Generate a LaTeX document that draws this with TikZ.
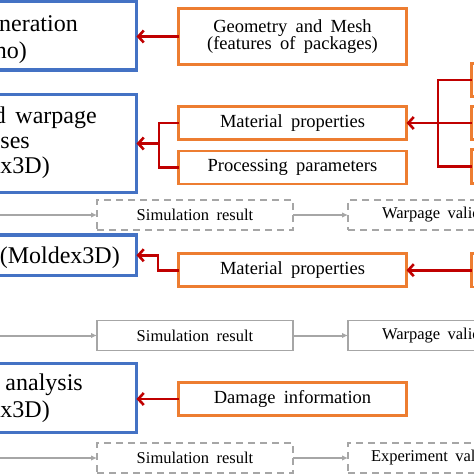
\documentclass[tikz,border=0pt]{standalone}
\usepackage{fontspec}
\setmainfont{Liberation Serif}
\usetikzlibrary{arrows.meta}
\definecolor{bblue}{RGB}{68,114,196}
\definecolor{borange}{RGB}{237,125,49}
\definecolor{bred}{RGB}{192,0,0}
\definecolor{bgray}{RGB}{166,166,166}
\newcommand{\mywidesp}{\spaceskip=0.45em\relax}
\newcommand{\mywidespb}{\spaceskip=0.4em\relax}
\begin{document}
\begin{tikzpicture}[x=1pt,y=-1pt,
  bluebox/.style={draw=bblue,line width=3.2pt,rectangle,inner sep=0pt,outer sep=0pt,minimum width=340pt,anchor=north east},
  bluetext/.style={font={\fontsize{24}{26}\selectfont\mywidespb},anchor=base east,inner sep=0pt},
  orangebox/.style={draw=borange,line width=2.6pt,rectangle,inner sep=0pt,outer sep=0pt,minimum width=228pt,minimum height=33pt,align=center,font={\fontsize{18.5}{17.5}\selectfont\mywidesp}},
  sidebox/.style={draw=borange,line width=2.6pt,rectangle,inner sep=0pt,outer sep=0pt,minimum width=100pt,anchor=west},
  redarrow/.style={draw=bred,line width=2.6pt,-{Straight Barb[length=5.5pt,width=12pt]}},
  redline/.style={draw=bred,line width=2.6pt},
  graybox/.style={draw=bgray,line width=1.6pt,rectangle,inner sep=0pt,outer sep=0pt,minimum height=30pt,font={\fontsize{16.5}{18}\selectfont\mywidesp}},
  dashbox/.style={graybox,dash pattern=on 7pt off 5pt},
  grayarrow/.style={draw=bgray,line width=2pt,-{Latex[length=6pt,width=5.5pt]}},
]
\useasboundingbox (0,0) rectangle (474,474);
\clip (0,0) rectangle (474,474);

% blue boxes
\node[bluebox,minimum height=68.4pt] (b1) at (136.5,1.6) {};
\node[bluebox,minimum height=98pt] (b2) at (136.5,94.5) {};
\node[bluebox,minimum height=40.5pt] (b3) at (136.5,235) {};
\node[bluebox,minimum height=69pt] (b4) at (136.5,363.5) {};
\node[bluetext] (t1a) at (78,31) {neration};
\node[bluetext] (t1b) at (27,58) {no)};
\node[bluetext] (t2a) at (97,123) {d warpage};
\node[bluetext] (t2b) at (30,148) {ses};
\node[bluetext] (t2c) at (50,173) {x3D)};
\node[bluetext] (t3a) at (120,263) {(Moldex3D)};
\node[bluetext] (t4a) at (83,390) {analysis};
\node[bluetext] (t4b) at (50,417) {x3D)};

% orange boxes
\node[orangebox,minimum height=56pt] (geo) at (292.5,36.5) {Geometry and Mesh\\(features of packages)};
\node[orangebox] (mat) at (292.5,123) {Material properties};
\node[orangebox] (proc) at (292.5,167.5) {Processing parameters};
\node[orangebox] (mat2) at (292.5,270.2) {Material properties};
\node[orangebox] (dmg) at (292.5,399) {Damage information};

% side boxes (cut off at the right)
\node[sidebox,minimum height=33pt] (r1) at (471.5,80) {};
\node[sidebox,minimum height=33pt] (r2) at (471.5,123) {};
\node[sidebox,minimum height=34pt] (r3) at (471.5,166.5) {};
\node[sidebox,minimum height=33.5pt] (r4) at (471.5,270.2) {};

% red connectors
\draw[redarrow] (geo.west) -- (geo.west -| b1.east);
\coordinate (j2) at (159,143.5);
\draw[redline] (mat.west) -| (j2) |- (proc.west);
\draw[redarrow] (j2) -- (j2 -| b2.east);
\coordinate (jr) at (438,123);
\draw[redline] (r1.west) -| (jr) |- (r3.west);
\draw[redarrow] (r2.west) -- (mat.east);
\coordinate (j3) at (158,270.2);
\draw[redarrow] (mat2.west) -- (j3) |- (b3.east);
\draw[redarrow] (r4.west) -- (mat2.east);
\draw[redarrow] (dmg.west) -- (dmg.west -| b4.east);

% gray rows
\node[dashbox,minimum width=196pt] (sim1) at (195,215) {Simulation result};
\node[dashbox,anchor=west,inner xsep=34pt] (val1) at (348,215) {Warpage validation};
\node[graybox,minimum width=196pt] (sim2) at (195,335.5) {Simulation result};
\node[graybox,anchor=west,inner xsep=34pt] (val2) at (348,335.5) {Warpage validation};
\node[dashbox,minimum width=196pt] (sim3) at (195,458) {Simulation result};
\node[dashbox,anchor=west,inner xsep=23pt] (exp3) at (348,458) {Experiment validation};

\coordinate (g1) at (-20,215);
\coordinate (g2) at (-20,335.5);
\coordinate (g3) at (-20,458);
\draw[grayarrow] (g1) -- (sim1.west);
\draw[grayarrow] (sim1.east) -- (val1.west);
\draw[grayarrow] (g2) -- (sim2.west);
\draw[grayarrow] (sim2.east) -- (val2.west);
\draw[grayarrow] (g3) -- (sim3.west);
\draw[grayarrow] (sim3.east) -- (exp3.west);
\end{tikzpicture}
\end{document}
